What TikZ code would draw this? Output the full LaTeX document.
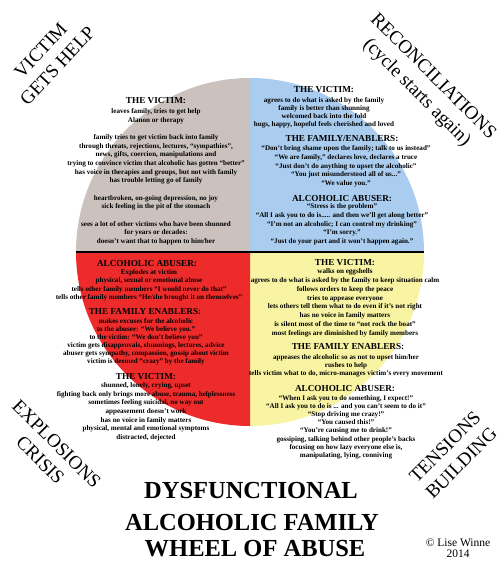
\documentclass[tikz,border=0pt]{standalone}
\usepackage{fontspec}
\setmainfont{Liberation Serif}
\definecolor{qgray}{HTML}{CBC2BD}
\definecolor{qblue}{HTML}{A9CCEF}
\definecolor{qred}{HTML}{EE2B2B}
\definecolor{qyellow}{HTML}{F8F4A3}
\tikzset{
  head/.style={font=\fontsize{9.2}{10}\selectfont\bfseries, inner sep=0pt, anchor=base},
  body/.style={font=\fontsize{7.1}{#1}\selectfont\bfseries, align=center, inner sep=0pt, anchor=north},
  corner/.style={font=\fontsize{19}{23}\selectfont, align=center, inner sep=0pt},
  titletext/.style={font=\fontsize{24.5}{26}\selectfont\bfseries, inner sep=0pt, anchor=base},
  copytext/.style={font=\fontsize{11.5}{12}\selectfont, inner sep=0pt, anchor=base}
}
\begin{document}
\begin{tikzpicture}[x=1pt,y=-1pt]
\useasboundingbox (0,0) rectangle (500,569);
\fill[white] (0,0) rectangle (500,569);
\coordinate (C) at (250,252);
\def\R{174}
\fill[qgray] (C) -- ++(-\R,0) arc[start angle=180, end angle=270, radius=\R] -- cycle;
\fill[qblue] (C) -- ++(0,-\R) arc[start angle=270, end angle=360, radius=\R] -- cycle;
\fill[qyellow] (C) -- ++(\R,0) arc[start angle=0, end angle=90, radius=\R] -- cycle;
\fill[qred] (C) -- ++(0,\R) arc[start angle=90, end angle=180, radius=\R] -- cycle;
\coordinate (L) at (76,252);
\coordinate (Rt) at (424,252);
\draw[line width=1.4pt] (L) -- (Rt);

% gray quadrant
\node[head] (g1) at (156,104) {THE VICTIM:};
\node[body=8.67] (g2) at (156,108.3) {leaves family, tries to get help\\Alanon or therapy\\[8.67pt]
family tries to get victim back into family\\through threats, rejections, lectures, “sympathies”,\\news, gifts, coercion, manipulations and\\trying to convince victim that alcoholic has gotten “better”\\has voice in therapies and groups, but not with family\\has trouble letting go of family\\[8.67pt]
heartbroken, on-going depression, no joy\\sick feeling in the pit of the stomach\\[8.67pt]
sees a lot of other victims who have been shunned\\for years or decades:\\doesn’t want that to happen to him/her};

% blue quadrant
\node[head] (b1) at (324,93) {THE VICTIM:};
\node[body=8.1] (b2) at (324,97.4) {agrees to do what is asked by the family\\family is better than shunning\\welcomed back into the fold\\hugs, happy, hopeful feels cherished and loved};
\node[head] (b3) at (342,142) {THE FAMILY/ENABLERS:};
\node[body=8.75] (b4) at (346,145.4) {“Don’t bring shame upon the family; talk to us instead”\\“We are family,” declares love, declares a truce\\“Just don’t do anything to upset the alcoholic”\\“You just misunderstood all of us...”\\“We value you.”};
\node[head] (b5) at (342,201) {ALCOHOLIC ABUSER:};
\node[body=8.75] (b6) at (342,203.4) {“Stress is the problem”\\“All I ask you to do is..... and then we’ll get along better”\\“I’m not an alcoholic; I can control my drinking”\\“I’m sorry.”\\“Just do your part and it won’t happen again.”};

% yellow quadrant
\node[head] (y1) at (345,265) {THE VICTIM:};
\node[body=8.85] (y2) at (345,268.4) {walks on eggshells\\agrees to do what is asked by the family to keep situation calm\\follows orders to keep the peace\\tries to appease everyone\\lets others tell them what to do even if it’s not right\\has no voice in family matters\\is silent most of the time to “not rock the boat”\\most feelings are diminished by family members};
\node[head] (y3) at (348,349) {THE FAMILY ENABLERS:};
\node[body=8] (y4) at (346,354.4) {appeases the alcoholic so as not to upset him/her\\rushes to help\\tells victim what to do, micro-manages victim’s every movement};
\node[head] (y5) at (345,391) {ALCOHOLIC ABUSER:};
\node[body=8.1] (y6) at (346,395.4) {“When I ask you to do something, I expect!”\\“All I ask you to do is ... and you can’t seem to do it”\\“Stop driving me crazy!”\\“You caused this!”\\“You’re causing me to drink!”\\gossiping, talking behind other people’s backs\\focusing on how lazy everyone else is,\\manipulating, lying, conniving};

% red quadrant
\node[head] (r1) at (147,266) {ALCOHOLIC ABUSER:};
\node[body=8.3] (r2) at (149,269.4) {Explodes at victim\\physical, sexual or emotional abuse\\tells other family members “I would never do that”\\tells other family members “He/she brought it on themselves”};
\node[head] (r3) at (145,314) {THE FAMILY ENABLERS:};
\node[body=8] (r4) at (146,318.4) {makes excuses for the alcoholic\\to the abuser: “We believe you.”\\to the victim: “We don’t believe you”\\victim gets disapprovals, shunnings, lectures, advice\\abuser gets sympathy, compassion, gossip about victim\\victim is deemed “crazy” by the family};
\node[head] (r5) at (146,379.5) {THE VICTIM:};
\node[body=8.67] (r6) at (146,382.4) {shunned, lonely, crying, upset\\fighting back only brings more abuse, trauma, helplessness\\sometimes feeling suicidal, no way out\\appeasement doesn’t work\\has no voice in family matters\\physical, mental and emotional symptoms\\distracted, dejected};

% corner labels
\node[corner, rotate=47] (c1) at (49,58) {VICTIM\\GETS HELP};
\node[corner, rotate=-45] (c2) at (424.5,85) {RECONCILIATIONS\\(cycle starts again)};
\node[corner, rotate=-45] (c3) at (48.5,452) {EXPLOSIONS\\CRISIS};
\node[corner, rotate=45] (c4) at (453,455) {TENSIONS\\BUILDING};

% title
\node[titletext] (t1) at (251,498) {DYSFUNCTIONAL};
\node[titletext] (t2) at (252,530) {ALCOHOLIC FAMILY};
\node[titletext] (t3) at (255,556) {WHEEL OF ABUSE};

\node[copytext] (cp1) at (458,546) {© Lise Winne};
\node[copytext] (cp2) at (458,557.5) {2014};
\end{tikzpicture}
\end{document}
